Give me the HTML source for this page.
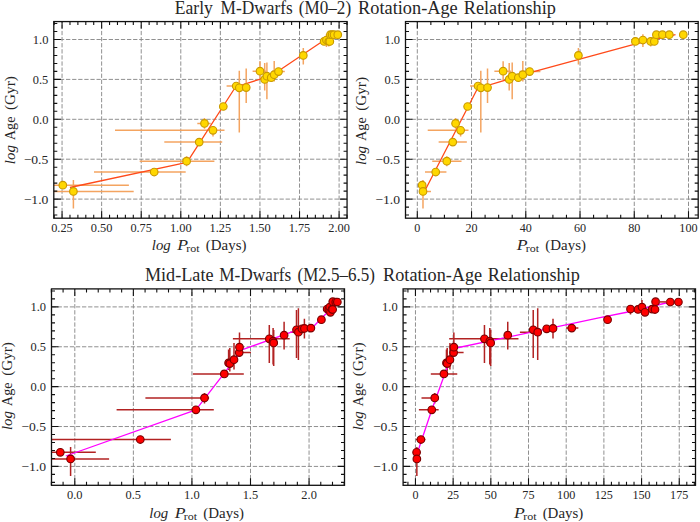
<!DOCTYPE html><html><head><meta charset="utf-8"><style>html,body{margin:0;padding:0;background:#fff;}svg{display:block;font-family:"Liberation Serif",serif;}</style></head><body>
<svg width="700" height="522" viewBox="0 0 700 522">
<rect width="700" height="522" fill="#fff"/>
<defs>
<clipPath id="cTL"><rect x="53.8" y="21.57" width="293.26" height="196.63"/></clipPath>
<clipPath id="cTR"><rect x="405.5" y="21.57" width="292.7" height="196.63"/></clipPath>
<clipPath id="cBL"><rect x="51.5" y="288.9" width="293" height="196.4"/></clipPath>
<clipPath id="cBR"><rect x="403.1" y="288.9" width="292.4" height="196.4"/></clipPath>
</defs>
<g stroke="#909090" stroke-width="1" stroke-dasharray="4.3,1.8" fill="none">
<line x1="62.06" y1="218.2" x2="62.06" y2="21.57"/>
<line x1="101.64" y1="218.2" x2="101.64" y2="21.57"/>
<line x1="141.22" y1="218.2" x2="141.22" y2="21.57"/>
<line x1="180.79" y1="218.2" x2="180.79" y2="21.57"/>
<line x1="220.37" y1="218.2" x2="220.37" y2="21.57"/>
<line x1="259.95" y1="218.2" x2="259.95" y2="21.57"/>
<line x1="299.53" y1="218.2" x2="299.53" y2="21.57"/>
<line x1="339.1" y1="218.2" x2="339.1" y2="21.57"/>
<line x1="53.8" y1="199.1" x2="347.06" y2="199.1"/>
<line x1="53.8" y1="159.2" x2="347.06" y2="159.2"/>
<line x1="53.8" y1="119.3" x2="347.06" y2="119.3"/>
<line x1="53.8" y1="79.4" x2="347.06" y2="79.4"/>
<line x1="53.8" y1="39.5" x2="347.06" y2="39.5"/>
</g>
<g stroke="#909090" stroke-width="1" stroke-dasharray="4.3,1.8" fill="none">
<line x1="417.3" y1="218.2" x2="417.3" y2="21.57"/>
<line x1="471.54" y1="218.2" x2="471.54" y2="21.57"/>
<line x1="525.78" y1="218.2" x2="525.78" y2="21.57"/>
<line x1="580.02" y1="218.2" x2="580.02" y2="21.57"/>
<line x1="634.26" y1="218.2" x2="634.26" y2="21.57"/>
<line x1="688.5" y1="218.2" x2="688.5" y2="21.57"/>
<line x1="405.5" y1="199.1" x2="698.2" y2="199.1"/>
<line x1="405.5" y1="159.2" x2="698.2" y2="159.2"/>
<line x1="405.5" y1="119.3" x2="698.2" y2="119.3"/>
<line x1="405.5" y1="79.4" x2="698.2" y2="79.4"/>
<line x1="405.5" y1="39.5" x2="698.2" y2="39.5"/>
</g>
<g stroke="#909090" stroke-width="1" stroke-dasharray="4.3,1.8" fill="none">
<line x1="74.8" y1="485.3" x2="74.8" y2="288.9"/>
<line x1="133.37" y1="485.3" x2="133.37" y2="288.9"/>
<line x1="191.93" y1="485.3" x2="191.93" y2="288.9"/>
<line x1="250.5" y1="485.3" x2="250.5" y2="288.9"/>
<line x1="309.06" y1="485.3" x2="309.06" y2="288.9"/>
<line x1="51.5" y1="466.42" x2="344.5" y2="466.42"/>
<line x1="51.5" y1="426.54" x2="344.5" y2="426.54"/>
<line x1="51.5" y1="386.66" x2="344.5" y2="386.66"/>
<line x1="51.5" y1="346.78" x2="344.5" y2="346.78"/>
<line x1="51.5" y1="306.9" x2="344.5" y2="306.9"/>
</g>
<g stroke="#909090" stroke-width="1" stroke-dasharray="4.3,1.8" fill="none">
<line x1="415.46" y1="485.3" x2="415.46" y2="288.9"/>
<line x1="453.14" y1="485.3" x2="453.14" y2="288.9"/>
<line x1="490.83" y1="485.3" x2="490.83" y2="288.9"/>
<line x1="528.51" y1="485.3" x2="528.51" y2="288.9"/>
<line x1="566.2" y1="485.3" x2="566.2" y2="288.9"/>
<line x1="603.88" y1="485.3" x2="603.88" y2="288.9"/>
<line x1="641.57" y1="485.3" x2="641.57" y2="288.9"/>
<line x1="679.25" y1="485.3" x2="679.25" y2="288.9"/>
<line x1="403.1" y1="466.42" x2="695.5" y2="466.42"/>
<line x1="403.1" y1="426.54" x2="695.5" y2="426.54"/>
<line x1="403.1" y1="386.66" x2="695.5" y2="386.66"/>
<line x1="403.1" y1="346.78" x2="695.5" y2="346.78"/>
<line x1="403.1" y1="306.9" x2="695.5" y2="306.9"/>
</g>
<g clip-path="url(#cTL)">
<g stroke="#f4a460" stroke-opacity="1" stroke-width="1.5" fill="none">
<line x1="30" y1="185.2" x2="128.9" y2="185.2"/>
<line x1="30" y1="191.4" x2="133.7" y2="191.4"/>
<line x1="73.4" y1="180" x2="73.4" y2="208.6"/>
<line x1="94" y1="172" x2="185.7" y2="172"/>
<line x1="139.7" y1="161.2" x2="214.4" y2="161.2"/>
<line x1="186.6" y1="156.2" x2="186.6" y2="166.2"/>
<line x1="164.3" y1="142.1" x2="222.2" y2="142.1"/>
<line x1="197.3" y1="123.4" x2="210.7" y2="123.4"/>
<line x1="204.5" y1="118" x2="204.5" y2="128.8"/>
<line x1="115" y1="130.3" x2="224.5" y2="130.3"/>
<line x1="213" y1="126" x2="213" y2="136.4"/>
<line x1="226.6" y1="86" x2="245" y2="86"/>
<line x1="239.3" y1="70.8" x2="239.3" y2="132.5"/>
<line x1="246.2" y1="68.6" x2="246.2" y2="103.1"/>
<line x1="252.6" y1="71.2" x2="266" y2="71.2"/>
<line x1="260" y1="61.3" x2="260" y2="80"/>
<line x1="264.7" y1="63" x2="264.7" y2="90.6"/>
<line x1="266.9" y1="62.6" x2="266.9" y2="99.2"/>
<line x1="274.2" y1="60.9" x2="274.2" y2="81.6"/>
<line x1="272" y1="71.6" x2="284.8" y2="71.6"/>
<line x1="303.3" y1="48.1" x2="303.3" y2="64.5"/>
<line x1="326.45" y1="34.3" x2="326.45" y2="47"/>
<line x1="328.78" y1="37" x2="328.78" y2="46.4"/>
</g>
<polyline points="69.9,187.5 187,162.4 235.5,87 259.5,79.4 278,71.2 320,43 333,36" fill="none" stroke="#ff4a1a" stroke-width="1.3" stroke-linejoin="round"/>
<g fill="#ffd700" stroke="#c99a00" stroke-width="1.15">
<circle cx="62.8" cy="185.2" r="3.8"/>
<circle cx="73.4" cy="191.4" r="3.8"/>
<circle cx="154.2" cy="172" r="3.8"/>
<circle cx="186.6" cy="161.2" r="3.8"/>
<circle cx="199.2" cy="142.1" r="3.8"/>
<circle cx="204.5" cy="123.4" r="3.8"/>
<circle cx="213" cy="130.3" r="3.8"/>
<circle cx="223.3" cy="106.5" r="3.8"/>
<circle cx="236.2" cy="86" r="3.8"/>
<circle cx="239.3" cy="87.8" r="3.8"/>
<circle cx="246.2" cy="87.6" r="3.8"/>
<circle cx="260" cy="71.2" r="3.8"/>
<circle cx="264.7" cy="79.4" r="3.8"/>
<circle cx="266.9" cy="76.2" r="3.8"/>
<circle cx="271.2" cy="77.7" r="3.8"/>
<circle cx="274.2" cy="74.7" r="3.8"/>
<circle cx="278.5" cy="71.6" r="3.8"/>
<circle cx="303.3" cy="55.4" r="3.8"/>
<circle cx="324.12" cy="41.4" r="3.8"/>
<circle cx="326.45" cy="40" r="3.8"/>
<circle cx="328.78" cy="41.4" r="3.8"/>
<circle cx="329.83" cy="41.4" r="3.8"/>
<circle cx="330.44" cy="34.7" r="3.8"/>
<circle cx="332.15" cy="34.7" r="3.8"/>
<circle cx="334.05" cy="34.7" r="3.8"/>
<circle cx="337.77" cy="34.7" r="3.8"/>
</g>
</g>
<g clip-path="url(#cTR)">
<g stroke="#f4a460" stroke-opacity="1" stroke-width="1.5" fill="none">
<line x1="420.33" y1="191.4" x2="430.97" y2="191.4"/>
<line x1="422.99" y1="180" x2="422.99" y2="208.6"/>
<line x1="424.97" y1="172" x2="446.43" y2="172"/>
<line x1="432.22" y1="161.2" x2="461.52" y2="161.2"/>
<line x1="446.81" y1="156.2" x2="446.81" y2="166.2"/>
<line x1="438.64" y1="142.1" x2="466.83" y2="142.1"/>
<line x1="451.78" y1="123.4" x2="459.2" y2="123.4"/>
<line x1="455.59" y1="118" x2="455.59" y2="128.8"/>
<line x1="427.72" y1="130.3" x2="468.51" y2="130.3"/>
<line x1="460.62" y1="126" x2="460.62" y2="136.4"/>
<line x1="470.1" y1="86" x2="486.3" y2="86"/>
<line x1="480.81" y1="70.8" x2="480.81" y2="132.5"/>
<line x1="487.52" y1="68.6" x2="487.52" y2="103.1"/>
<line x1="494.37" y1="71.2" x2="510.95" y2="71.2"/>
<line x1="503.13" y1="61.3" x2="503.13" y2="80"/>
<line x1="509.2" y1="63" x2="509.2" y2="90.6"/>
<line x1="512.19" y1="62.6" x2="512.19" y2="99.2"/>
<line x1="522.82" y1="60.9" x2="522.82" y2="81.6"/>
<line x1="519.49" y1="71.6" x2="540.41" y2="71.6"/>
<line x1="578.41" y1="48.1" x2="578.41" y2="64.5"/>
<line x1="642.9" y1="34.3" x2="642.9" y2="47"/>
<line x1="650.7" y1="37" x2="650.7" y2="46.4"/>
</g>
<polyline points="424.2,192 477.5,88.5 532.9,71.9 634,44.4 658.6,38.6 675.5,34.7" fill="none" stroke="#ff4a1a" stroke-width="1.3" stroke-linejoin="round"/>
<g fill="#ffd700" stroke="#c99a00" stroke-width="1.15">
<circle cx="422.17" cy="185.2" r="3.8"/>
<circle cx="422.99" cy="191.4" r="3.8"/>
<circle cx="435.72" cy="172" r="3.8"/>
<circle cx="446.81" cy="161.2" r="3.8"/>
<circle cx="452.75" cy="142.1" r="3.8"/>
<circle cx="455.59" cy="123.4" r="3.8"/>
<circle cx="460.62" cy="130.3" r="3.8"/>
<circle cx="467.63" cy="106.5" r="3.8"/>
<circle cx="478.01" cy="86" r="3.8"/>
<circle cx="480.81" cy="87.8" r="3.8"/>
<circle cx="487.52" cy="87.6" r="3.8"/>
<circle cx="503.13" cy="71.2" r="3.8"/>
<circle cx="509.2" cy="79.4" r="3.8"/>
<circle cx="512.19" cy="76.2" r="3.8"/>
<circle cx="518.31" cy="77.7" r="3.8"/>
<circle cx="522.82" cy="74.7" r="3.8"/>
<circle cx="529.63" cy="71.6" r="3.8"/>
<circle cx="578.41" cy="55.4" r="3.8"/>
<circle cx="635.4" cy="41.4" r="3.8"/>
<circle cx="642.9" cy="40" r="3.8"/>
<circle cx="650.7" cy="41.4" r="3.8"/>
<circle cx="654.3" cy="41.4" r="3.8"/>
<circle cx="656.4" cy="34.7" r="3.8"/>
<circle cx="662.4" cy="34.7" r="3.8"/>
<circle cx="669.3" cy="34.7" r="3.8"/>
<circle cx="683.3" cy="34.7" r="3.8"/>
</g>
</g>
<g clip-path="url(#cBL)">
<g stroke="#b22222" stroke-opacity="1" stroke-width="1.5" fill="none">
<line x1="20" y1="452.3" x2="95.8" y2="452.3"/>
<line x1="20" y1="458.9" x2="109.1" y2="458.9"/>
<line x1="70.6" y1="446.9" x2="70.6" y2="476"/>
<line x1="20" y1="439.5" x2="170.9" y2="439.5"/>
<line x1="116.6" y1="409.8" x2="213.8" y2="409.8"/>
<line x1="145.4" y1="397.9" x2="209.1" y2="397.9"/>
<line x1="204.5" y1="393.1" x2="204.5" y2="403.6"/>
<line x1="192.9" y1="373.9" x2="243.8" y2="373.9"/>
<line x1="228.6" y1="349.4" x2="228.6" y2="370.1"/>
<line x1="229.8" y1="348" x2="229.8" y2="371.5"/>
<line x1="234" y1="342.9" x2="234" y2="369.5"/>
<line x1="236" y1="352.6" x2="251" y2="352.6"/>
<line x1="239.5" y1="332.4" x2="239.5" y2="356"/>
<line x1="232.9" y1="338.8" x2="289.7" y2="338.8"/>
<line x1="269.3" y1="325" x2="269.3" y2="363"/>
<line x1="273.1" y1="328" x2="273.1" y2="364.5"/>
<line x1="273.7" y1="330" x2="273.7" y2="366"/>
<line x1="284.1" y1="321.8" x2="284.1" y2="349.4"/>
<line x1="296.5" y1="310" x2="296.5" y2="358"/>
<line x1="290.4" y1="332.2" x2="300" y2="332.2"/>
<line x1="298.4" y1="308.2" x2="298.4" y2="360"/>
<line x1="304.4" y1="318.8" x2="304.4" y2="338.6"/>
<line x1="309" y1="328.1" x2="313" y2="328.1"/>
<line x1="327.13" y1="305" x2="327.13" y2="314.5"/>
<line x1="329.78" y1="300" x2="329.78" y2="312"/>
</g>
<polyline points="65.8,456 195.9,409.8 242.5,349.6 292,331.8 314,326 326.2,313.5 337,302" fill="none" stroke="#ff00ff" stroke-width="1.3" stroke-linejoin="round"/>
<g fill="#ff0000" stroke="#7a0000" stroke-width="1.15">
<circle cx="60.3" cy="452.3" r="3.8"/>
<circle cx="70.6" cy="458.9" r="3.8"/>
<circle cx="140.3" cy="439.5" r="3.8"/>
<circle cx="195.9" cy="409.8" r="3.8"/>
<circle cx="204.5" cy="397.9" r="3.8"/>
<circle cx="224.3" cy="373.9" r="3.8"/>
<circle cx="228.6" cy="362.9" r="3.8"/>
<circle cx="229.8" cy="363.6" r="3.8"/>
<circle cx="234" cy="359.7" r="3.8"/>
<circle cx="239.2" cy="352.6" r="3.8"/>
<circle cx="239.5" cy="347.2" r="3.8"/>
<circle cx="269.3" cy="338.8" r="3.8"/>
<circle cx="273.1" cy="341.2" r="3.8"/>
<circle cx="273.7" cy="342.9" r="3.8"/>
<circle cx="284.1" cy="335.2" r="3.8"/>
<circle cx="296.5" cy="329.8" r="3.8"/>
<circle cx="298.4" cy="332.2" r="3.8"/>
<circle cx="302" cy="328.8" r="3.8"/>
<circle cx="304.4" cy="328.4" r="3.8"/>
<circle cx="310.9" cy="328.1" r="3.8"/>
<circle cx="321.4" cy="319.7" r="3.8"/>
<circle cx="327.13" cy="309" r="3.8"/>
<circle cx="328.88" cy="309.4" r="3.8"/>
<circle cx="329.78" cy="307.1" r="3.8"/>
<circle cx="330.45" cy="312.3" r="3.8"/>
<circle cx="332" cy="309.1" r="3.8"/>
<circle cx="332.62" cy="309.5" r="3.8"/>
<circle cx="332.75" cy="301.7" r="3.8"/>
<circle cx="335.77" cy="302" r="3.8"/>
<circle cx="337.36" cy="302" r="3.8"/>
</g>
</g>
<g clip-path="url(#cBR)">
<g stroke="#b22222" stroke-opacity="1" stroke-width="1.5" fill="none">
<line x1="415.97" y1="452.3" x2="417.74" y2="452.3"/>
<line x1="415.97" y1="458.9" x2="418.42" y2="458.9"/>
<line x1="416.85" y1="446.9" x2="416.85" y2="476"/>
<line x1="415.97" y1="439.5" x2="425.43" y2="439.5"/>
<line x1="418.89" y1="409.8" x2="438.63" y2="409.8"/>
<line x1="421.5" y1="397.9" x2="436.59" y2="397.9"/>
<line x1="434.76" y1="393.1" x2="434.76" y2="403.6"/>
<line x1="430.82" y1="373.9" x2="457.25" y2="373.9"/>
<line x1="446.46" y1="349.4" x2="446.46" y2="370.1"/>
<line x1="447.2" y1="348" x2="447.2" y2="371.5"/>
<line x1="449.93" y1="342.9" x2="449.93" y2="369.5"/>
<line x1="451.31" y1="352.6" x2="463.6" y2="352.6"/>
<line x1="453.86" y1="332.4" x2="453.86" y2="356"/>
<line x1="449.19" y1="338.8" x2="518.48" y2="338.8"/>
<line x1="484.45" y1="325" x2="484.45" y2="363"/>
<line x1="489.8" y1="328" x2="489.8" y2="364.5"/>
<line x1="490.68" y1="330" x2="490.68" y2="366"/>
<line x1="507.75" y1="321.8" x2="507.75" y2="349.4"/>
<line x1="533.22" y1="310" x2="533.22" y2="358"/>
<line x1="519.91" y1="332.2" x2="541.61" y2="332.2"/>
<line x1="537.7" y1="308.2" x2="537.7" y2="360"/>
<line x1="553" y1="318.8" x2="553" y2="338.6"/>
<line x1="566.02" y1="328.1" x2="578.34" y2="328.1"/>
<line x1="630.5" y1="305" x2="630.5" y2="314.5"/>
<line x1="642" y1="300" x2="642" y2="312"/>
</g>
<polyline points="417,454 431.8,409.8 454,348.5 600,317.7 630.5,311.5 668,302.5" fill="none" stroke="#ff00ff" stroke-width="1.3" stroke-linejoin="round"/>
<g fill="#ff0000" stroke="#7a0000" stroke-width="1.15">
<circle cx="416.59" cy="452.3" r="3.8"/>
<circle cx="416.85" cy="458.9" r="3.8"/>
<circle cx="420.92" cy="439.5" r="3.8"/>
<circle cx="431.76" cy="409.8" r="3.8"/>
<circle cx="434.76" cy="397.9" r="3.8"/>
<circle cx="443.94" cy="373.9" r="3.8"/>
<circle cx="446.46" cy="362.9" r="3.8"/>
<circle cx="447.2" cy="363.6" r="3.8"/>
<circle cx="449.93" cy="359.7" r="3.8"/>
<circle cx="453.64" cy="352.6" r="3.8"/>
<circle cx="453.86" cy="347.2" r="3.8"/>
<circle cx="484.45" cy="338.8" r="3.8"/>
<circle cx="489.8" cy="341.2" r="3.8"/>
<circle cx="490.68" cy="342.9" r="3.8"/>
<circle cx="507.75" cy="335.2" r="3.8"/>
<circle cx="533.22" cy="329.8" r="3.8"/>
<circle cx="537.7" cy="332.2" r="3.8"/>
<circle cx="546.67" cy="328.8" r="3.8"/>
<circle cx="553" cy="328.4" r="3.8"/>
<circle cx="571.75" cy="328.1" r="3.8"/>
<circle cx="607.58" cy="319.7" r="3.8"/>
<circle cx="630.5" cy="309" r="3.8"/>
<circle cx="638" cy="309.4" r="3.8"/>
<circle cx="642" cy="307.1" r="3.8"/>
<circle cx="645" cy="312.3" r="3.8"/>
<circle cx="652.1" cy="309.1" r="3.8"/>
<circle cx="655" cy="309.5" r="3.8"/>
<circle cx="655.6" cy="301.7" r="3.8"/>
<circle cx="670.3" cy="302" r="3.8"/>
<circle cx="678.4" cy="302" r="3.8"/>
</g>
</g>
<g stroke="#b22222" stroke-width="1.5">
<line x1="658" y1="301.9" x2="667" y2="301.9"/>
</g>
<path d="M62.06 218.2v-7M62.06 21.57v7M101.64 218.2v-7M101.64 21.57v7M141.22 218.2v-7M141.22 21.57v7M180.79 218.2v-7M180.79 21.57v7M220.37 218.2v-7M220.37 21.57v7M259.95 218.2v-7M259.95 21.57v7M299.53 218.2v-7M299.53 21.57v7M339.1 218.2v-7M339.1 21.57v7M54.14 218.2v-3.5M54.14 21.57v3.5M62.06 218.2v-3.5M62.06 21.57v3.5M69.98 218.2v-3.5M69.98 21.57v3.5M77.89 218.2v-3.5M77.89 21.57v3.5M85.81 218.2v-3.5M85.81 21.57v3.5M93.72 218.2v-3.5M93.72 21.57v3.5M101.64 218.2v-3.5M101.64 21.57v3.5M109.55 218.2v-3.5M109.55 21.57v3.5M117.47 218.2v-3.5M117.47 21.57v3.5M125.38 218.2v-3.5M125.38 21.57v3.5M133.3 218.2v-3.5M133.3 21.57v3.5M141.22 218.2v-3.5M141.22 21.57v3.5M149.13 218.2v-3.5M149.13 21.57v3.5M157.05 218.2v-3.5M157.05 21.57v3.5M164.96 218.2v-3.5M164.96 21.57v3.5M172.88 218.2v-3.5M172.88 21.57v3.5M180.79 218.2v-3.5M180.79 21.57v3.5M188.71 218.2v-3.5M188.71 21.57v3.5M196.62 218.2v-3.5M196.62 21.57v3.5M204.54 218.2v-3.5M204.54 21.57v3.5M212.45 218.2v-3.5M212.45 21.57v3.5M220.37 218.2v-3.5M220.37 21.57v3.5M228.29 218.2v-3.5M228.29 21.57v3.5M236.2 218.2v-3.5M236.2 21.57v3.5M244.12 218.2v-3.5M244.12 21.57v3.5M252.03 218.2v-3.5M252.03 21.57v3.5M259.95 218.2v-3.5M259.95 21.57v3.5M267.86 218.2v-3.5M267.86 21.57v3.5M275.78 218.2v-3.5M275.78 21.57v3.5M283.69 218.2v-3.5M283.69 21.57v3.5M291.61 218.2v-3.5M291.61 21.57v3.5M299.53 218.2v-3.5M299.53 21.57v3.5M307.44 218.2v-3.5M307.44 21.57v3.5M315.36 218.2v-3.5M315.36 21.57v3.5M323.27 218.2v-3.5M323.27 21.57v3.5M331.19 218.2v-3.5M331.19 21.57v3.5M339.1 218.2v-3.5M339.1 21.57v3.5M347.02 218.2v-3.5M347.02 21.57v3.5M53.8 199.1h7M347.06 199.1h-7M53.8 159.2h7M347.06 159.2h-7M53.8 119.3h7M347.06 119.3h-7M53.8 79.4h7M347.06 79.4h-7M53.8 39.5h7M347.06 39.5h-7M53.8 215.06h3.5M347.06 215.06h-3.5M53.8 207.08h3.5M347.06 207.08h-3.5M53.8 199.1h3.5M347.06 199.1h-3.5M53.8 191.12h3.5M347.06 191.12h-3.5M53.8 183.14h3.5M347.06 183.14h-3.5M53.8 175.16h3.5M347.06 175.16h-3.5M53.8 167.18h3.5M347.06 167.18h-3.5M53.8 159.2h3.5M347.06 159.2h-3.5M53.8 151.22h3.5M347.06 151.22h-3.5M53.8 143.24h3.5M347.06 143.24h-3.5M53.8 135.26h3.5M347.06 135.26h-3.5M53.8 127.28h3.5M347.06 127.28h-3.5M53.8 119.3h3.5M347.06 119.3h-3.5M53.8 111.32h3.5M347.06 111.32h-3.5M53.8 103.34h3.5M347.06 103.34h-3.5M53.8 95.36h3.5M347.06 95.36h-3.5M53.8 87.38h3.5M347.06 87.38h-3.5M53.8 79.4h3.5M347.06 79.4h-3.5M53.8 71.42h3.5M347.06 71.42h-3.5M53.8 63.44h3.5M347.06 63.44h-3.5M53.8 55.46h3.5M347.06 55.46h-3.5M53.8 47.48h3.5M347.06 47.48h-3.5M53.8 39.5h3.5M347.06 39.5h-3.5M53.8 31.52h3.5M347.06 31.52h-3.5M53.8 23.54h3.5M347.06 23.54h-3.5" stroke="#111" stroke-width="1.1" fill="none"/>
<rect x="53.8" y="21.57" width="293.26" height="196.63" fill="none" stroke="#111" stroke-width="1.3"/>
<path d="M417.3 218.2v-7M417.3 21.57v7M471.54 218.2v-7M471.54 21.57v7M525.78 218.2v-7M525.78 21.57v7M580.02 218.2v-7M580.02 21.57v7M634.26 218.2v-7M634.26 21.57v7M688.5 218.2v-7M688.5 21.57v7M417.3 218.2v-3.5M417.3 21.57v3.5M430.86 218.2v-3.5M430.86 21.57v3.5M444.42 218.2v-3.5M444.42 21.57v3.5M457.98 218.2v-3.5M457.98 21.57v3.5M471.54 218.2v-3.5M471.54 21.57v3.5M485.1 218.2v-3.5M485.1 21.57v3.5M498.66 218.2v-3.5M498.66 21.57v3.5M512.22 218.2v-3.5M512.22 21.57v3.5M525.78 218.2v-3.5M525.78 21.57v3.5M539.34 218.2v-3.5M539.34 21.57v3.5M552.9 218.2v-3.5M552.9 21.57v3.5M566.46 218.2v-3.5M566.46 21.57v3.5M580.02 218.2v-3.5M580.02 21.57v3.5M593.58 218.2v-3.5M593.58 21.57v3.5M607.14 218.2v-3.5M607.14 21.57v3.5M620.7 218.2v-3.5M620.7 21.57v3.5M634.26 218.2v-3.5M634.26 21.57v3.5M647.82 218.2v-3.5M647.82 21.57v3.5M661.38 218.2v-3.5M661.38 21.57v3.5M674.94 218.2v-3.5M674.94 21.57v3.5M688.5 218.2v-3.5M688.5 21.57v3.5M405.5 199.1h7M698.2 199.1h-7M405.5 159.2h7M698.2 159.2h-7M405.5 119.3h7M698.2 119.3h-7M405.5 79.4h7M698.2 79.4h-7M405.5 39.5h7M698.2 39.5h-7M405.5 215.06h3.5M698.2 215.06h-3.5M405.5 207.08h3.5M698.2 207.08h-3.5M405.5 199.1h3.5M698.2 199.1h-3.5M405.5 191.12h3.5M698.2 191.12h-3.5M405.5 183.14h3.5M698.2 183.14h-3.5M405.5 175.16h3.5M698.2 175.16h-3.5M405.5 167.18h3.5M698.2 167.18h-3.5M405.5 159.2h3.5M698.2 159.2h-3.5M405.5 151.22h3.5M698.2 151.22h-3.5M405.5 143.24h3.5M698.2 143.24h-3.5M405.5 135.26h3.5M698.2 135.26h-3.5M405.5 127.28h3.5M698.2 127.28h-3.5M405.5 119.3h3.5M698.2 119.3h-3.5M405.5 111.32h3.5M698.2 111.32h-3.5M405.5 103.34h3.5M698.2 103.34h-3.5M405.5 95.36h3.5M698.2 95.36h-3.5M405.5 87.38h3.5M698.2 87.38h-3.5M405.5 79.4h3.5M698.2 79.4h-3.5M405.5 71.42h3.5M698.2 71.42h-3.5M405.5 63.44h3.5M698.2 63.44h-3.5M405.5 55.46h3.5M698.2 55.46h-3.5M405.5 47.48h3.5M698.2 47.48h-3.5M405.5 39.5h3.5M698.2 39.5h-3.5M405.5 31.52h3.5M698.2 31.52h-3.5M405.5 23.54h3.5M698.2 23.54h-3.5" stroke="#111" stroke-width="1.1" fill="none"/>
<rect x="405.5" y="21.57" width="292.7" height="196.63" fill="none" stroke="#111" stroke-width="1.3"/>
<path d="M74.8 485.3v-7M74.8 288.9v7M133.37 485.3v-7M133.37 288.9v7M191.93 485.3v-7M191.93 288.9v7M250.5 485.3v-7M250.5 288.9v7M309.06 485.3v-7M309.06 288.9v7M51.37 485.3v-3.5M51.37 288.9v3.5M63.09 485.3v-3.5M63.09 288.9v3.5M74.8 485.3v-3.5M74.8 288.9v3.5M86.51 485.3v-3.5M86.51 288.9v3.5M98.23 485.3v-3.5M98.23 288.9v3.5M109.94 485.3v-3.5M109.94 288.9v3.5M121.65 485.3v-3.5M121.65 288.9v3.5M133.37 485.3v-3.5M133.37 288.9v3.5M145.08 485.3v-3.5M145.08 288.9v3.5M156.79 485.3v-3.5M156.79 288.9v3.5M168.5 485.3v-3.5M168.5 288.9v3.5M180.22 485.3v-3.5M180.22 288.9v3.5M191.93 485.3v-3.5M191.93 288.9v3.5M203.64 485.3v-3.5M203.64 288.9v3.5M215.36 485.3v-3.5M215.36 288.9v3.5M227.07 485.3v-3.5M227.07 288.9v3.5M238.78 485.3v-3.5M238.78 288.9v3.5M250.5 485.3v-3.5M250.5 288.9v3.5M262.21 485.3v-3.5M262.21 288.9v3.5M273.92 485.3v-3.5M273.92 288.9v3.5M285.63 485.3v-3.5M285.63 288.9v3.5M297.35 485.3v-3.5M297.35 288.9v3.5M309.06 485.3v-3.5M309.06 288.9v3.5M320.77 485.3v-3.5M320.77 288.9v3.5M332.49 485.3v-3.5M332.49 288.9v3.5M344.2 485.3v-3.5M344.2 288.9v3.5M51.5 466.42h7M344.5 466.42h-7M51.5 426.54h7M344.5 426.54h-7M51.5 386.66h7M344.5 386.66h-7M51.5 346.78h7M344.5 346.78h-7M51.5 306.9h7M344.5 306.9h-7M51.5 482.37h3.5M344.5 482.37h-3.5M51.5 474.4h3.5M344.5 474.4h-3.5M51.5 466.42h3.5M344.5 466.42h-3.5M51.5 458.44h3.5M344.5 458.44h-3.5M51.5 450.47h3.5M344.5 450.47h-3.5M51.5 442.49h3.5M344.5 442.49h-3.5M51.5 434.52h3.5M344.5 434.52h-3.5M51.5 426.54h3.5M344.5 426.54h-3.5M51.5 418.56h3.5M344.5 418.56h-3.5M51.5 410.59h3.5M344.5 410.59h-3.5M51.5 402.61h3.5M344.5 402.61h-3.5M51.5 394.64h3.5M344.5 394.64h-3.5M51.5 386.66h3.5M344.5 386.66h-3.5M51.5 378.68h3.5M344.5 378.68h-3.5M51.5 370.71h3.5M344.5 370.71h-3.5M51.5 362.73h3.5M344.5 362.73h-3.5M51.5 354.76h3.5M344.5 354.76h-3.5M51.5 346.78h3.5M344.5 346.78h-3.5M51.5 338.8h3.5M344.5 338.8h-3.5M51.5 330.83h3.5M344.5 330.83h-3.5M51.5 322.85h3.5M344.5 322.85h-3.5M51.5 314.88h3.5M344.5 314.88h-3.5M51.5 306.9h3.5M344.5 306.9h-3.5M51.5 298.92h3.5M344.5 298.92h-3.5M51.5 290.95h3.5M344.5 290.95h-3.5" stroke="#111" stroke-width="1.1" fill="none"/>
<rect x="51.5" y="288.9" width="293" height="196.4" fill="none" stroke="#111" stroke-width="1.3"/>
<path d="M415.46 485.3v-7M415.46 288.9v7M453.14 485.3v-7M453.14 288.9v7M490.83 485.3v-7M490.83 288.9v7M528.51 485.3v-7M528.51 288.9v7M566.2 485.3v-7M566.2 288.9v7M603.88 485.3v-7M603.88 288.9v7M641.57 485.3v-7M641.57 288.9v7M679.25 485.3v-7M679.25 288.9v7M407.92 485.3v-3.5M407.92 288.9v3.5M415.46 485.3v-3.5M415.46 288.9v3.5M423 485.3v-3.5M423 288.9v3.5M430.53 485.3v-3.5M430.53 288.9v3.5M438.07 485.3v-3.5M438.07 288.9v3.5M445.61 485.3v-3.5M445.61 288.9v3.5M453.14 485.3v-3.5M453.14 288.9v3.5M460.68 485.3v-3.5M460.68 288.9v3.5M468.22 485.3v-3.5M468.22 288.9v3.5M475.76 485.3v-3.5M475.76 288.9v3.5M483.29 485.3v-3.5M483.29 288.9v3.5M490.83 485.3v-3.5M490.83 288.9v3.5M498.37 485.3v-3.5M498.37 288.9v3.5M505.9 485.3v-3.5M505.9 288.9v3.5M513.44 485.3v-3.5M513.44 288.9v3.5M520.98 485.3v-3.5M520.98 288.9v3.5M528.51 485.3v-3.5M528.51 288.9v3.5M536.05 485.3v-3.5M536.05 288.9v3.5M543.59 485.3v-3.5M543.59 288.9v3.5M551.13 485.3v-3.5M551.13 288.9v3.5M558.66 485.3v-3.5M558.66 288.9v3.5M566.2 485.3v-3.5M566.2 288.9v3.5M573.74 485.3v-3.5M573.74 288.9v3.5M581.27 485.3v-3.5M581.27 288.9v3.5M588.81 485.3v-3.5M588.81 288.9v3.5M596.35 485.3v-3.5M596.35 288.9v3.5M603.88 485.3v-3.5M603.88 288.9v3.5M611.42 485.3v-3.5M611.42 288.9v3.5M618.96 485.3v-3.5M618.96 288.9v3.5M626.5 485.3v-3.5M626.5 288.9v3.5M634.03 485.3v-3.5M634.03 288.9v3.5M641.57 485.3v-3.5M641.57 288.9v3.5M649.11 485.3v-3.5M649.11 288.9v3.5M656.64 485.3v-3.5M656.64 288.9v3.5M664.18 485.3v-3.5M664.18 288.9v3.5M671.72 485.3v-3.5M671.72 288.9v3.5M679.25 485.3v-3.5M679.25 288.9v3.5M686.79 485.3v-3.5M686.79 288.9v3.5M694.33 485.3v-3.5M694.33 288.9v3.5M403.1 466.42h7M695.5 466.42h-7M403.1 426.54h7M695.5 426.54h-7M403.1 386.66h7M695.5 386.66h-7M403.1 346.78h7M695.5 346.78h-7M403.1 306.9h7M695.5 306.9h-7M403.1 482.37h3.5M695.5 482.37h-3.5M403.1 474.4h3.5M695.5 474.4h-3.5M403.1 466.42h3.5M695.5 466.42h-3.5M403.1 458.44h3.5M695.5 458.44h-3.5M403.1 450.47h3.5M695.5 450.47h-3.5M403.1 442.49h3.5M695.5 442.49h-3.5M403.1 434.52h3.5M695.5 434.52h-3.5M403.1 426.54h3.5M695.5 426.54h-3.5M403.1 418.56h3.5M695.5 418.56h-3.5M403.1 410.59h3.5M695.5 410.59h-3.5M403.1 402.61h3.5M695.5 402.61h-3.5M403.1 394.64h3.5M695.5 394.64h-3.5M403.1 386.66h3.5M695.5 386.66h-3.5M403.1 378.68h3.5M695.5 378.68h-3.5M403.1 370.71h3.5M695.5 370.71h-3.5M403.1 362.73h3.5M695.5 362.73h-3.5M403.1 354.76h3.5M695.5 354.76h-3.5M403.1 346.78h3.5M695.5 346.78h-3.5M403.1 338.8h3.5M695.5 338.8h-3.5M403.1 330.83h3.5M695.5 330.83h-3.5M403.1 322.85h3.5M695.5 322.85h-3.5M403.1 314.88h3.5M695.5 314.88h-3.5M403.1 306.9h3.5M695.5 306.9h-3.5M403.1 298.92h3.5M695.5 298.92h-3.5M403.1 290.95h3.5M695.5 290.95h-3.5" stroke="#111" stroke-width="1.1" fill="none"/>
<rect x="403.1" y="288.9" width="292.4" height="196.4" fill="none" stroke="#111" stroke-width="1.3"/>
<g fill="#262626">
<text x="23.65" y="203.5" font-size="12.8" textLength="24.78" lengthAdjust="spacingAndGlyphs">−1.0</text>
<text x="23.65" y="163.6" font-size="12.8" textLength="24.66" lengthAdjust="spacingAndGlyphs">−0.5</text>
<text x="32.82" y="123.7" font-size="12.8" textLength="15.57" lengthAdjust="spacingAndGlyphs">0.0</text>
<text x="32.82" y="83.8" font-size="12.8" textLength="15.45" lengthAdjust="spacingAndGlyphs">0.5</text>
<text x="32.78" y="43.9" font-size="12.8" textLength="15.62" lengthAdjust="spacingAndGlyphs">1.0</text>
<text x="375.35" y="203.5" font-size="12.8" textLength="24.78" lengthAdjust="spacingAndGlyphs">−1.0</text>
<text x="375.35" y="163.6" font-size="12.8" textLength="24.66" lengthAdjust="spacingAndGlyphs">−0.5</text>
<text x="384.52" y="123.7" font-size="12.8" textLength="15.57" lengthAdjust="spacingAndGlyphs">0.0</text>
<text x="384.52" y="83.8" font-size="12.8" textLength="15.45" lengthAdjust="spacingAndGlyphs">0.5</text>
<text x="384.48" y="43.9" font-size="12.8" textLength="15.62" lengthAdjust="spacingAndGlyphs">1.0</text>
<text x="21.35" y="470.82" font-size="12.8" textLength="24.78" lengthAdjust="spacingAndGlyphs">−1.0</text>
<text x="21.35" y="430.94" font-size="12.8" textLength="24.66" lengthAdjust="spacingAndGlyphs">−0.5</text>
<text x="30.52" y="391.06" font-size="12.8" textLength="15.57" lengthAdjust="spacingAndGlyphs">0.0</text>
<text x="30.52" y="351.18" font-size="12.8" textLength="15.45" lengthAdjust="spacingAndGlyphs">0.5</text>
<text x="30.48" y="311.3" font-size="12.8" textLength="15.62" lengthAdjust="spacingAndGlyphs">1.0</text>
<text x="372.95" y="470.82" font-size="12.8" textLength="24.78" lengthAdjust="spacingAndGlyphs">−1.0</text>
<text x="372.95" y="430.94" font-size="12.8" textLength="24.66" lengthAdjust="spacingAndGlyphs">−0.5</text>
<text x="382.12" y="391.06" font-size="12.8" textLength="15.57" lengthAdjust="spacingAndGlyphs">0.0</text>
<text x="382.12" y="351.18" font-size="12.8" textLength="15.45" lengthAdjust="spacingAndGlyphs">0.5</text>
<text x="382.08" y="311.3" font-size="12.8" textLength="15.62" lengthAdjust="spacingAndGlyphs">1.0</text>
<text x="51.23" y="231.8" font-size="12.8" textLength="21.55" lengthAdjust="spacingAndGlyphs">0.25</text>
<text x="90.8" y="231.8" font-size="12.8" textLength="21.67" lengthAdjust="spacingAndGlyphs">0.50</text>
<text x="130.38" y="231.8" font-size="12.8" textLength="21.55" lengthAdjust="spacingAndGlyphs">0.75</text>
<text x="169.92" y="231.8" font-size="12.8" textLength="21.7" lengthAdjust="spacingAndGlyphs">1.00</text>
<text x="209.51" y="231.8" font-size="12.8" textLength="21.58" lengthAdjust="spacingAndGlyphs">1.25</text>
<text x="249.08" y="231.8" font-size="12.8" textLength="21.7" lengthAdjust="spacingAndGlyphs">1.50</text>
<text x="288.66" y="231.8" font-size="12.8" textLength="21.58" lengthAdjust="spacingAndGlyphs">1.75</text>
<text x="328.34" y="231.8" font-size="12.8" textLength="21.59" lengthAdjust="spacingAndGlyphs">2.00</text>
<text x="414.27" y="231.8" font-size="12.8" textLength="6.06" lengthAdjust="spacingAndGlyphs">0</text>
<text x="465.54" y="231.8" font-size="12.8" textLength="12.08" lengthAdjust="spacingAndGlyphs">20</text>
<text x="519.78" y="231.8" font-size="12.8" textLength="12.08" lengthAdjust="spacingAndGlyphs">40</text>
<text x="573.91" y="231.8" font-size="12.8" textLength="12.19" lengthAdjust="spacingAndGlyphs">60</text>
<text x="628.18" y="231.8" font-size="12.8" textLength="12.16" lengthAdjust="spacingAndGlyphs">80</text>
<text x="679.34" y="231.8" font-size="12.8" textLength="18.29" lengthAdjust="spacingAndGlyphs">100</text>
<text x="67.01" y="499.2" font-size="12.8" textLength="15.57" lengthAdjust="spacingAndGlyphs">0.0</text>
<text x="125.58" y="499.2" font-size="12.8" textLength="15.45" lengthAdjust="spacingAndGlyphs">0.5</text>
<text x="184.1" y="499.2" font-size="12.8" textLength="15.62" lengthAdjust="spacingAndGlyphs">1.0</text>
<text x="242.68" y="499.2" font-size="12.8" textLength="15.49" lengthAdjust="spacingAndGlyphs">1.5</text>
<text x="301.35" y="499.2" font-size="12.8" textLength="15.5" lengthAdjust="spacingAndGlyphs">2.0</text>
<text x="412.43" y="499.2" font-size="12.8" textLength="6.06" lengthAdjust="spacingAndGlyphs">0</text>
<text x="447.15" y="499.2" font-size="12.8" textLength="11.95" lengthAdjust="spacingAndGlyphs">25</text>
<text x="484.57" y="499.2" font-size="12.8" textLength="12.35" lengthAdjust="spacingAndGlyphs">50</text>
<text x="522.31" y="499.2" font-size="12.8" textLength="12.17" lengthAdjust="spacingAndGlyphs">75</text>
<text x="557.04" y="499.2" font-size="12.8" textLength="18.29" lengthAdjust="spacingAndGlyphs">100</text>
<text x="594.74" y="499.2" font-size="12.8" textLength="18.16" lengthAdjust="spacingAndGlyphs">125</text>
<text x="632.41" y="499.2" font-size="12.8" textLength="18.29" lengthAdjust="spacingAndGlyphs">150</text>
<text x="670.11" y="499.2" font-size="12.8" textLength="18.16" lengthAdjust="spacingAndGlyphs">175</text>
</g>
<g fill="#262626">
<text x="151.82" y="250.1" font-size="14.3" font-style="italic" textLength="18.93" lengthAdjust="spacingAndGlyphs">log</text>
<text x="177.29" y="250.1" font-size="14.3" font-style="italic" textLength="10.77" lengthAdjust="spacingAndGlyphs">P</text>
<text x="186.36" y="252.4" font-size="10.2" textLength="13.31" lengthAdjust="spacingAndGlyphs">rot</text>
<text x="205.87" y="250.1" font-size="14.3" textLength="40.59" lengthAdjust="spacingAndGlyphs">(Days)</text>
<text x="516.79" y="250.1" font-size="14.3" font-style="italic" textLength="10.77" lengthAdjust="spacingAndGlyphs">P</text>
<text x="525.86" y="252.4" font-size="10.2" textLength="13.31" lengthAdjust="spacingAndGlyphs">rot</text>
<text x="545.37" y="250.1" font-size="14.3" textLength="40.59" lengthAdjust="spacingAndGlyphs">(Days)</text>
<text x="149.32" y="517.5" font-size="14.3" font-style="italic" textLength="18.93" lengthAdjust="spacingAndGlyphs">log</text>
<text x="174.79" y="517.5" font-size="14.3" font-style="italic" textLength="10.77" lengthAdjust="spacingAndGlyphs">P</text>
<text x="183.86" y="519.8" font-size="10.2" textLength="13.31" lengthAdjust="spacingAndGlyphs">rot</text>
<text x="203.37" y="517.5" font-size="14.3" textLength="40.59" lengthAdjust="spacingAndGlyphs">(Days)</text>
<text x="514.09" y="517.5" font-size="14.3" font-style="italic" textLength="10.77" lengthAdjust="spacingAndGlyphs">P</text>
<text x="523.16" y="519.8" font-size="10.2" textLength="13.31" lengthAdjust="spacingAndGlyphs">rot</text>
<text x="542.67" y="517.5" font-size="14.3" textLength="40.59" lengthAdjust="spacingAndGlyphs">(Days)</text>
<text transform="translate(14.5,163.4) rotate(-90)" x="-0.78" y="0" font-size="14.3" font-style="italic" textLength="19.03" lengthAdjust="spacingAndGlyphs">log</text>
<text transform="translate(14.5,163.4) rotate(-90)" x="23.16" y="0" font-size="14.3" textLength="23.82" lengthAdjust="spacingAndGlyphs">Age</text>
<text transform="translate(14.5,163.4) rotate(-90)" x="53.46" y="0" font-size="14.3" textLength="33.71" lengthAdjust="spacingAndGlyphs">(Gyr)</text>
<text transform="translate(365.6,164.2) rotate(-90)" x="-0.78" y="0" font-size="14.3" font-style="italic" textLength="19.03" lengthAdjust="spacingAndGlyphs">log</text>
<text transform="translate(365.6,164.2) rotate(-90)" x="23.16" y="0" font-size="14.3" textLength="23.82" lengthAdjust="spacingAndGlyphs">Age</text>
<text transform="translate(365.6,164.2) rotate(-90)" x="53.46" y="0" font-size="14.3" textLength="33.71" lengthAdjust="spacingAndGlyphs">(Gyr)</text>
<text transform="translate(12.2,429.3) rotate(-90)" x="-0.78" y="0" font-size="14.3" font-style="italic" textLength="19.03" lengthAdjust="spacingAndGlyphs">log</text>
<text transform="translate(12.2,429.3) rotate(-90)" x="23.16" y="0" font-size="14.3" textLength="23.82" lengthAdjust="spacingAndGlyphs">Age</text>
<text transform="translate(12.2,429.3) rotate(-90)" x="53.46" y="0" font-size="14.3" textLength="33.71" lengthAdjust="spacingAndGlyphs">(Gyr)</text>
<text transform="translate(363.4,429.6) rotate(-90)" x="-0.78" y="0" font-size="14.3" font-style="italic" textLength="19.03" lengthAdjust="spacingAndGlyphs">log</text>
<text transform="translate(363.4,429.6) rotate(-90)" x="23.16" y="0" font-size="14.3" textLength="23.82" lengthAdjust="spacingAndGlyphs">Age</text>
<text transform="translate(363.4,429.6) rotate(-90)" x="53.46" y="0" font-size="14.3" textLength="33.71" lengthAdjust="spacingAndGlyphs">(Gyr)</text>
</g>
<g fill="#262626">
<text x="174.82" y="13.8" font-size="18.6" textLength="38.04" lengthAdjust="spacingAndGlyphs">Early</text>
<text x="220.52" y="13.8" font-size="18.6" textLength="72.19" lengthAdjust="spacingAndGlyphs">M-Dwarfs</text>
<text x="298.87" y="13.8" font-size="18.6" textLength="52.26" lengthAdjust="spacingAndGlyphs">(M0–2)</text>
<text x="358.1" y="13.8" font-size="18.6" textLength="99.62" lengthAdjust="spacingAndGlyphs">Rotation-Age</text>
<text x="463.8" y="13.8" font-size="18.6" textLength="92.03" lengthAdjust="spacingAndGlyphs">Relationship</text>
<text x="144.9" y="281" font-size="18.6" textLength="68.62" lengthAdjust="spacingAndGlyphs">Mid-Late</text>
<text x="219.22" y="281" font-size="18.6" textLength="72.09" lengthAdjust="spacingAndGlyphs">M-Dwarfs</text>
<text x="297.48" y="281" font-size="18.6" textLength="77.55" lengthAdjust="spacingAndGlyphs">(M2.5–6.5)</text>
<text x="383.1" y="281" font-size="18.6" textLength="99.11" lengthAdjust="spacingAndGlyphs">Rotation-Age</text>
<text x="487.8" y="281" font-size="18.6" textLength="92.03" lengthAdjust="spacingAndGlyphs">Relationship</text>
</g>
</svg></body></html>
